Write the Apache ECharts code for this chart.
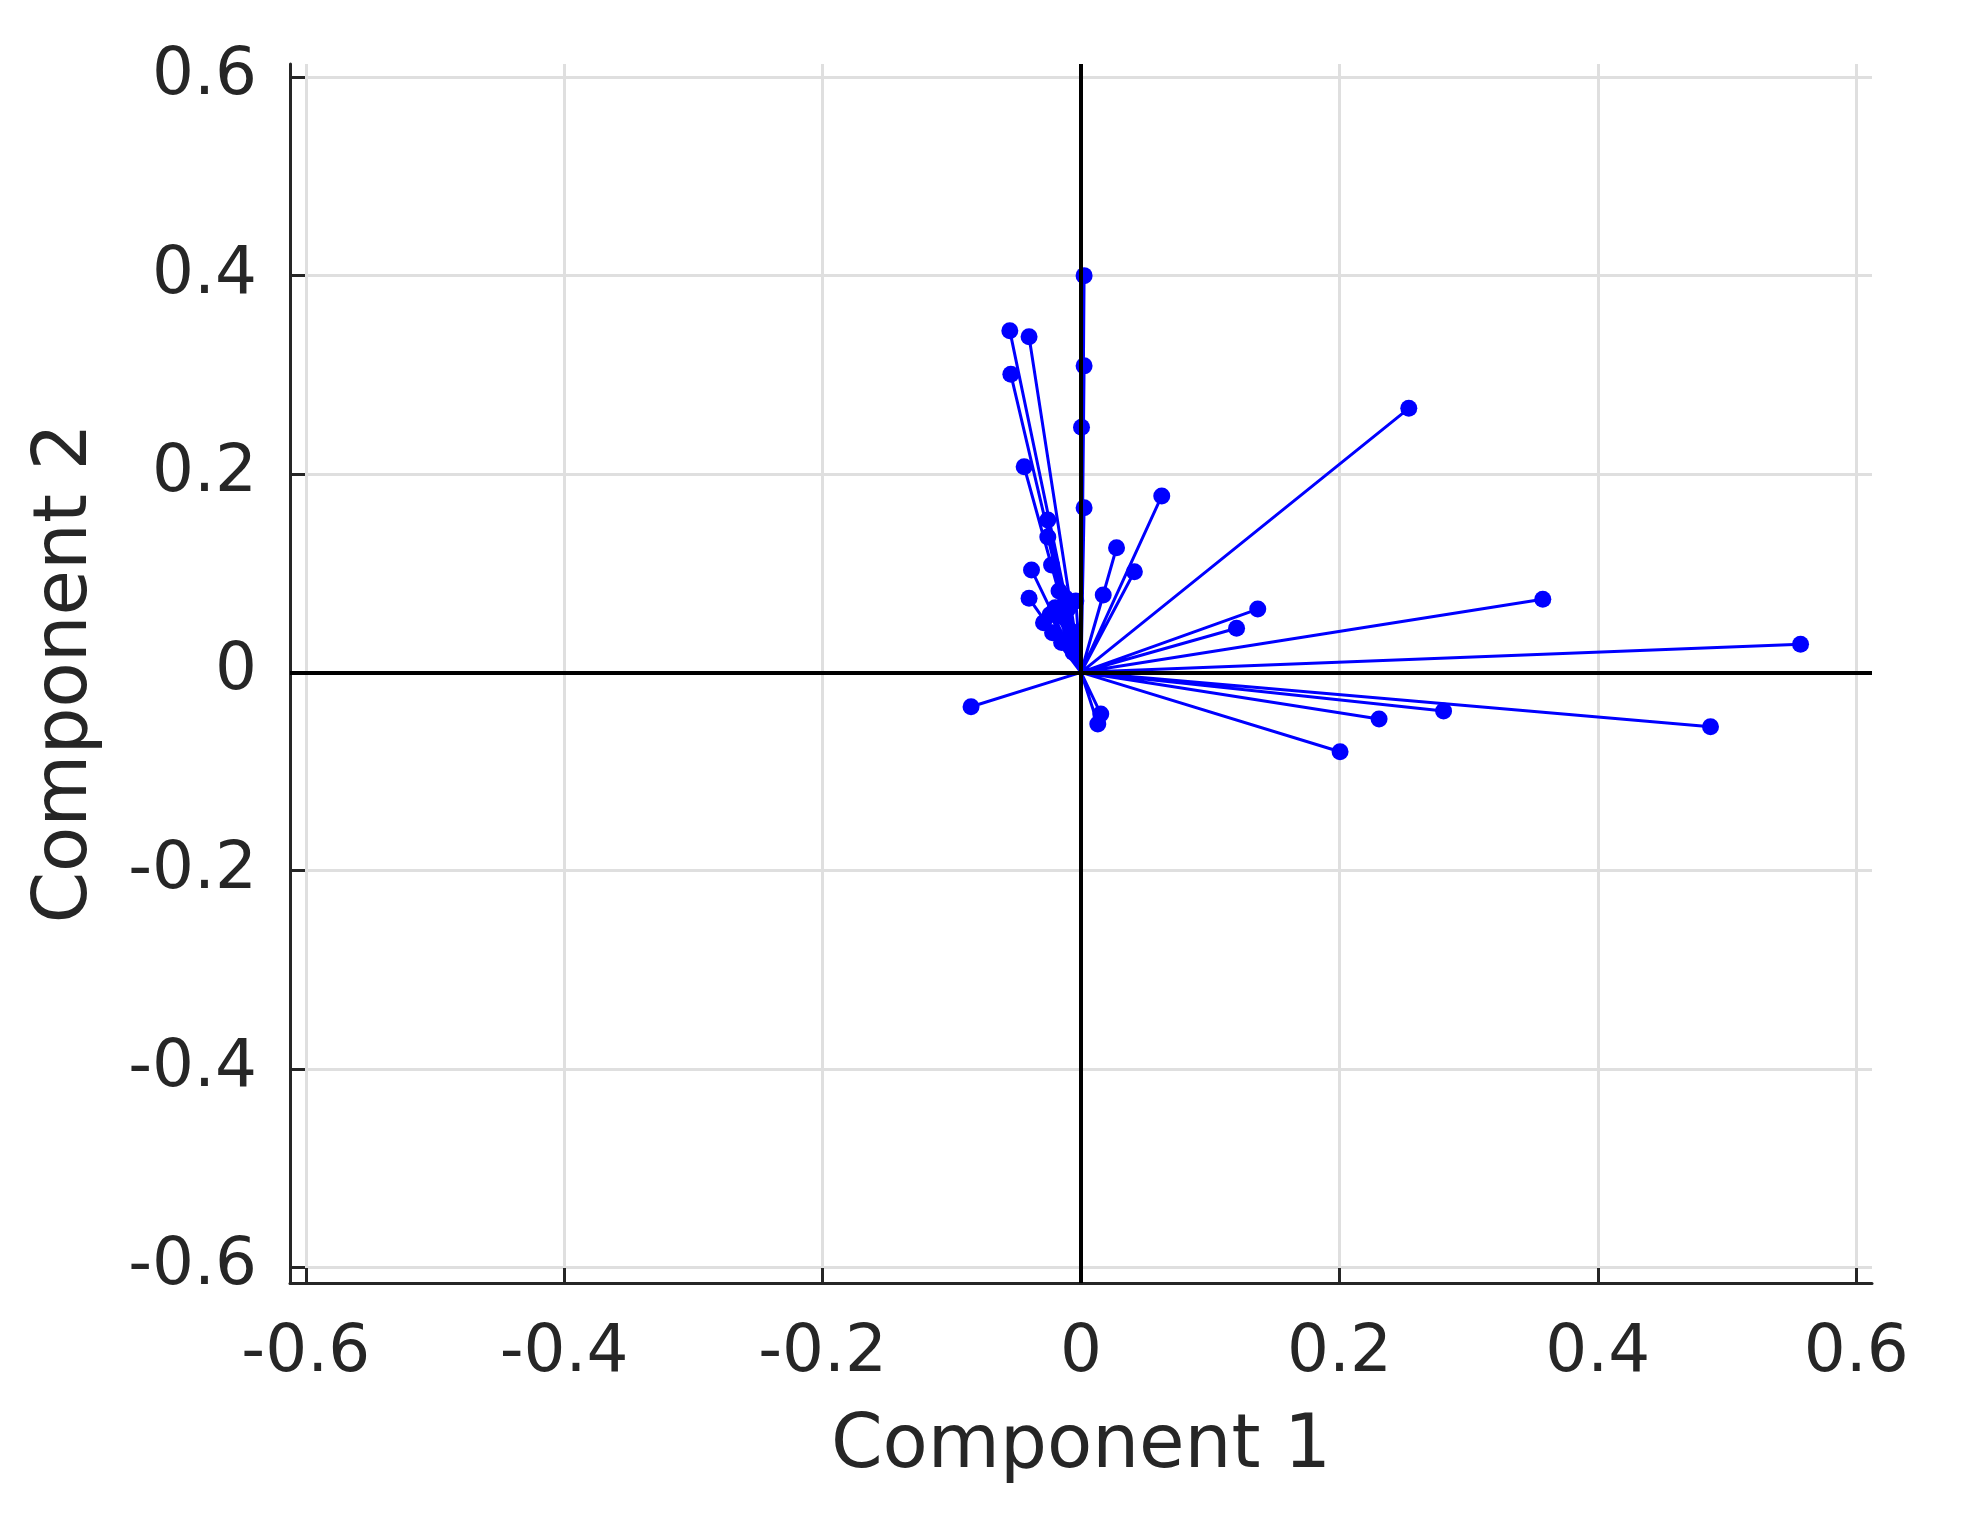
<!DOCTYPE html>
<html>
<head>
<meta charset="utf-8">
<script src="https://cdn.jsdelivr.net/npm/echarts@6/dist/echarts.min.js"></script>
<style>
html,body{margin:0;padding:0;background:#fff;}
#chart{width:1971px;height:1520px;}
</style>
</head>
<body>
<div id="chart"></div>
<script>
// Component 1 / Component 2 loadings (vector endpoints)
const comp1 = [
  0.0024, 0.0024, 0.0004, 0.0024,
  -0.0551, -0.0402, -0.0543, -0.0440, -0.0257, -0.0257, -0.0228, -0.0383, -0.0402,
  -0.012, -0.004, -0.020, -0.029, -0.022, -0.013, -0.008, -0.015, -0.006, -0.017, -0.024, -0.010,
  0.2537, 0.0625, 0.0275, 0.0413, 0.0172, 0.1368, 0.1204, 0.3574, 0.5569,
  0.4872, 0.2806, 0.2307, 0.2005, 0.0153, 0.0130, -0.0851
];
const comp2 = [
  0.400, 0.309, 0.247, 0.166,
  0.3445, 0.3384, 0.3005, 0.2073, 0.1536, 0.1364, 0.1082, 0.1032, 0.0746,
  0.075, 0.072, 0.065, 0.050, 0.040, 0.055, 0.042, 0.030, 0.020, 0.082, 0.058, 0.064,
  0.2662, 0.1778, 0.1256, 0.1014, 0.0779, 0.0638, 0.0444, 0.0736, 0.0282,
  -0.0549, -0.0390, -0.0471, -0.0801, -0.0420, -0.0521, -0.0347
];
const tickValues = [-0.6, -0.4, -0.2, 0, 0.2, 0.4, 0.6];
const xTitle = 'Component 1';
const yTitle = 'Component 2';

const segs = [];
const pts = [];
for (let i = 0; i < comp1.length; i++) {
  segs.push([0, 0], [comp1[i], comp2[i]], '-');
  pts.push([comp1[i], comp2[i]]);
}
const fmt = v => (Math.abs(v) < 1e-9 ? '0' : (+v).toFixed(1));
const txt = '#262626';
const font = 'DejaVu Sans';

const chart = echarts.init(document.getElementById('chart'), null, {renderer: 'canvas'});
chart.setOption({
  animation: false,
  backgroundColor: '#ffffff',
  grid: {left: 290, right: 99, top: 64, bottom: 237, containLabel: false},
  xAxis: {
    type: 'value', min: -0.6122, max: 0.6122,
    name: xTitle, nameLocation: 'middle', nameGap: 128,
    nameTextStyle: {fontSize: 74, color: txt, fontFamily: font},
    axisLine: {show: true, onZero: false, lineStyle: {color: txt, width: 3}},
    axisTick: {show: true, inside: true, length: 15, customValues: tickValues, lineStyle: {color: txt, width: 3}},
    axisLabel: {show: true, customValues: tickValues, margin: 38, fontSize: 66, color: txt, fontFamily: font, formatter: fmt},
    splitLine: {show: true, lineStyle: {color: '#dfdfdf', width: 3}}
  },
  yAxis: {
    type: 'value', min: -0.6158, max: 0.6134,
    name: yTitle, nameLocation: 'middle', nameGap: 186, nameRotate: 90,
    nameTextStyle: {fontSize: 74, color: txt, fontFamily: font},
    axisLine: {show: true, onZero: false, lineStyle: {color: txt, width: 3}},
    axisTick: {show: true, inside: true, length: 15, customValues: tickValues, lineStyle: {color: txt, width: 3}},
    axisLabel: {show: true, customValues: tickValues, margin: 33, fontSize: 66, color: txt, fontFamily: font, formatter: fmt},
    splitLine: {show: true, lineStyle: {color: '#dfdfdf', width: 3}}
  },
  series: [
    {
      type: 'line', data: segs, showSymbol: false, connectNulls: false,
      lineStyle: {color: '#0000ff', width: 3}, z: 3, silent: true,
      markLine: {
        silent: true, symbol: 'none', animation: false,
        label: {show: false},
        lineStyle: {color: '#000000', width: 4, type: 'solid'},
        data: [{xAxis: 0}, {yAxis: 0}]
      }
    },
    {
      type: 'scatter', data: pts, symbol: 'circle', symbolSize: 17,
      itemStyle: {color: '#0000ff', opacity: 1}, z: 4, silent: true
    }
  ]
});
</script>
</body>
</html>
